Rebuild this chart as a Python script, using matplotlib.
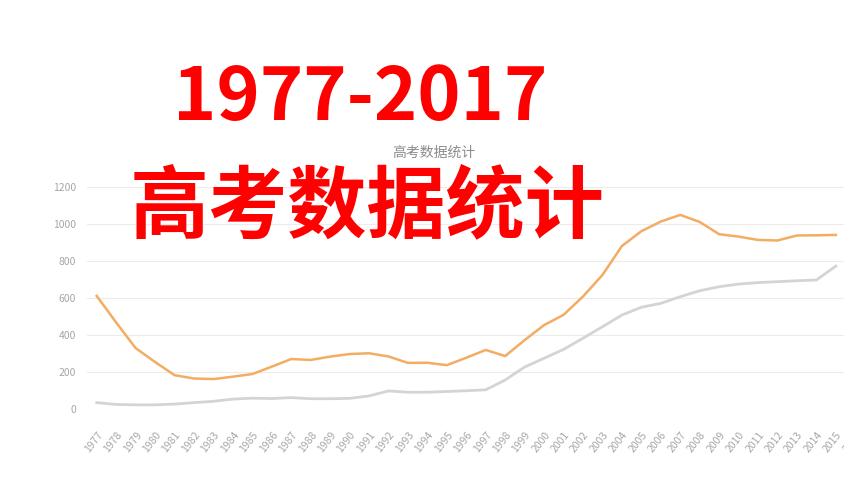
import matplotlib
matplotlib.use('Agg')
import matplotlib.pyplot as plt
from matplotlib.patches import Rectangle

plt.rcParams['font.family'] = ['Noto Sans CJK SC', 'DejaVu Sans']

# x categories (last one is cut off by the picture edge)
years = [str(y) for y in range(1977, 2017)]

# applicants (orange) and admitted (gray), in 10k people
applicants = [611, 468, 330, 255, 184, 166, 163, 176, 190, 230,
              271, 266, 284, 298, 302, 285, 250, 251, 238, 278,
              320, 287, 373, 454, 509, 608, 724, 880, 960, 1012,
              1048, 1010, 944, 931, 913, 910, 937, 938, 940]
admitted = [36, 26, 24, 24, 28, 36, 43, 55, 60, 58,
            63, 57, 57, 59, 72, 99, 92, 92, 96, 100,
            105, 158, 228, 275, 323, 383, 445, 508, 550, 571,
            607, 639, 661, 675, 683, 688, 693, 697, 772]

chart_title = '高考数据统计'
banner_top = '1977-2017'
banner_bottom = '高考数据统计'

W, H = 864, 486
fig = plt.figure(figsize=(W / 100, H / 100), dpi=100)
ax = fig.add_axes([87 / W, (H - 409.3) / H, 778 / W, 222.6 / H])

x = list(range(len(applicants)))
ax.plot(x, admitted, color='#d4d4d4', lw=2.0, solid_joinstyle='round')
ax.plot(x, applicants, color='#f2ad62', lw=1.8, solid_joinstyle='round')

ax.set_xlim(-0.5, len(years) - 0.5)
ax.set_ylim(0, 1200)
ax.set_yticks(range(0, 1201, 200))
ax.set_xticks(range(len(years)))
ax.set_xticklabels(years, rotation=52, ha='right', rotation_mode='anchor')
ax.tick_params(axis='x', length=0, pad=15, labelsize=7.5, labelcolor='#a6a6a6')
ax.tick_params(axis='y', length=0, pad=8, labelsize=7.5, labelcolor='#a6a6a6')
ax.grid(axis='y', color='#ececec', lw=0.8)
ax.set_axisbelow(True)
for s in ax.spines.values():
    s.set_visible(False)

fig.text(434 / W, 1 - 153 / H, chart_title, ha='center', va='center',
         fontsize=10, color='#8c8c8c')
fig.text(360 / W, 1 - 99 / H, banner_top, ha='center', va='center',
         fontsize=53, color='#ff0000', fontweight='bold')
fig.text(367 / W, 1 - 208 / H, banner_bottom, ha='center', va='center',
         fontsize=57, color='#ff0000', fontweight='bold')

# the source picture is cropped at the right edge
fig.patches.append(Rectangle((844 / W, 0), 20 / W, 1, transform=fig.transFigure,
                             facecolor='white', edgecolor='none', zorder=10))

fig.savefig('out.png', dpi=100)
